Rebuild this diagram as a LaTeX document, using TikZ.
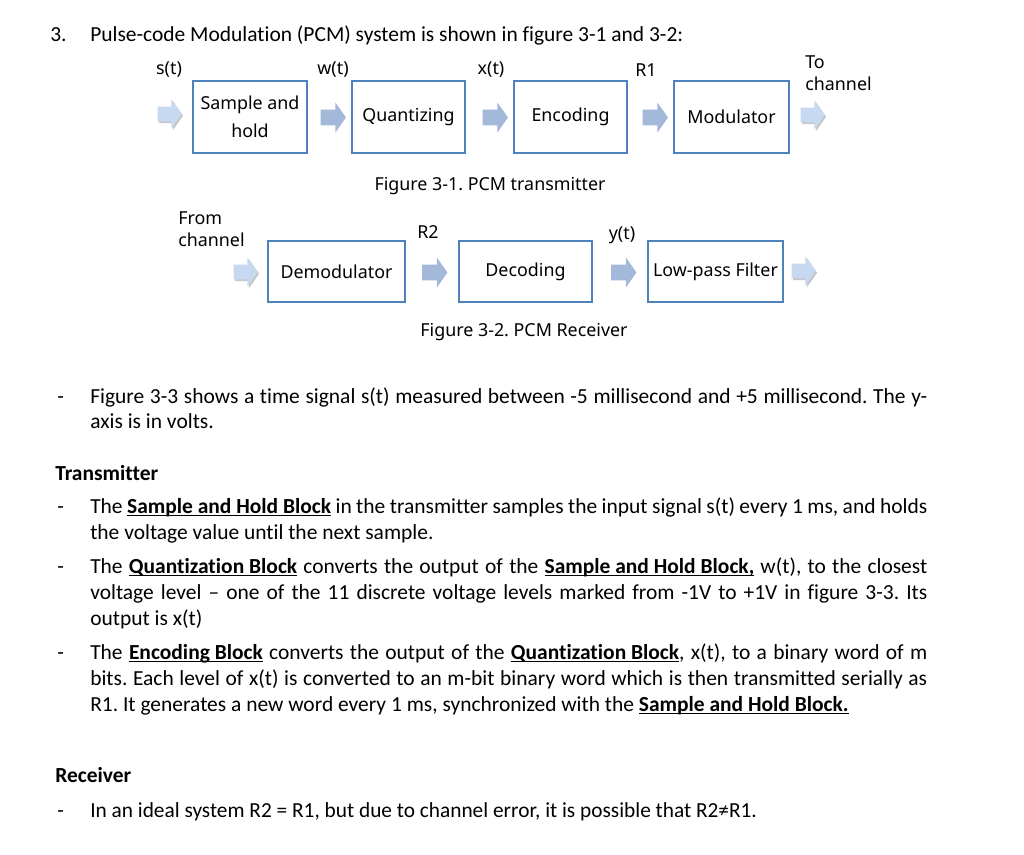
\documentclass[tikz,border=0pt]{standalone}
\usepackage{fontspec}
\usepackage{graphicx}
\setmainfont{Carlito}[Ligatures=NoCommon]
\newfontfamily\dg{Noto Sans}
\usetikzlibrary{shapes.arrows,shadows}
\definecolor{boxblue}{HTML}{4F81BD}
\definecolor{arrdark}{HTML}{A4B8DA}
\definecolor{arrlight}{HTML}{C6D9F1}
\frenchspacing
\newcommand\body{\fontsize{16.1pt}{19pt}\selectfont}
\newcommand\dgf{\dg\fontsize{13.4pt}{21pt}\selectfont}
\newcommand\ulb[1]{\setbox0\hbox{\bfseries #1}\rlap{\rule[-2.4pt]{\wd0}{0.9pt}}\box0\relax}
\newcommand\jline[1]{\makebox[627.75pt][s]{#1}}
\begin{document}
\begin{tikzpicture}[x=0.75pt,y=-0.75pt,
  blk/.style={draw=boxblue, line width=1pt, minimum height=54pt, align=center, font=\dgf, inner sep=0pt},
  darr/.style={single arrow, fill=arrdark, draw=none, minimum height=19pt, inner sep=5.7pt,
    single arrow head extend=5.4pt, single arrow tip angle=110},
  larr/.style={single arrow, fill=arrlight, draw=none, minimum height=18pt, inner sep=5.4pt,
    single arrow head extend=5.3pt, single arrow tip angle=110,
    drop shadow={shadow xshift=1.1pt, shadow yshift=-1.3pt, fill=black!22, opacity=1}},
  lab/.style={font=\dg\fontsize{13.4pt}{16.5pt}\selectfont, inner sep=0pt, align=left},
  txt/.style={anchor=base west, inner sep=0pt, font=\body}
]
\useasboundingbox[fill=white] (0,0) rectangle (1024,855);

% ---------- transmitter ----------
\node[blk, minimum width=85.5pt] (sh) at (250,117) {Sample and\\hold};
\node[blk, minimum width=84.75pt] (qz) at (408.5,117) {Quantizing};
\node[blk, minimum width=84.75pt] (en) at (570.5,117) {Encoding};
\node[blk, minimum width=86.25pt] (md) at (731.5,117) {Modulator};

\node[larr] (a1) at (167,114) {};
\node[darr] (a2) at (330.5,117.5) {};
\node[darr] (a3) at (492.5,117.5) {};
\node[darr] (a4) at (652.5,117.5) {};
\node[larr] (a5) at (810,115) {};

\node[lab] (ls) at (169,70) {s(t)};
\node[lab] (lw) at (333,70) {w(t)};
\node[lab] (lx) at (491,70) {x(t)};
\node[lab] (lr1) at (646,70) {R1};
\node[lab, anchor=north west] (ltc) at (805,55) {To\\channel};
\node[lab] (cap1) at (490,186) {Figure 3-1. PCM transmitter};

% ---------- receiver ----------
\node[blk, minimum width=102.75pt, minimum height=45.75pt] (dm) at (336.5,271.5) {Demodulator};
\node[blk, minimum width=99.75pt, minimum height=45.75pt] (dc) at (525.5,271.5) {Decoding};
\node[blk, minimum width=101.25pt, minimum height=45.75pt] (lp) at (715.5,271.5) {Low-pass Filter};

\node[larr] (b1) at (243,272) {};
\node[darr] (b2) at (432,272.5) {};
\node[darr] (b3) at (621,272.5) {};
\node[larr] (b4) at (801,271) {};

\node[lab, anchor=north west] (lfc) at (178,211) {From\\channel};
\node[lab] (lr2) at (428,232) {R2};
\node[lab] (ly) at (622,235) {y(t)};
\node[lab] (cap2) at (524,332) {Figure 3-2. PCM Receiver};

% ---------- text ----------
\node[txt] (n3) at (50,42) {3.};
\node[txt] (l0) at (90,42) {Pulse-code Modulation (PCM) system is shown in figure 3-1 and 3-2:};

\node[txt] (d1) at (57,403) {-};
\node[txt] (p1a) at (90,403) {\jline{Figure 3-3 shows a time signal s(t) measured between -5 millisecond and +5 millisecond. The y-}};
\node[txt] (p1b) at (90,428) {axis is in volts.};

\node[txt, font=\body\bfseries] (htr) at (55,480) {Transmitter};

\node[txt] (d2) at (57,513) {-};
\node[txt] (t1) at (90,513) {\jline{The \ulb{Sample and Hold Block} in the transmitter samples the input signal s(t) every 1 ms, and holds}};
\node[txt] (t2) at (90,539) {the voltage value until the next sample.};

\node[txt] (d3) at (57,573) {-};
\node[txt] (t3) at (90,573) {\jline{The \ulb{Quantization Block} converts the output of the \ulb{Sample and Hold Block,} w(t), to the closest}};
\node[txt] (t4) at (90,599) {\jline{voltage level – one of the 11 discrete voltage levels marked from -1V to +1V in figure 3-3. Its}};
\node[txt] (t5) at (90,625) {output is x(t)};

\node[txt] (d4) at (57,659) {-};
\node[txt] (t6) at (90,659) {\jline{The \ulb{Encoding Block} converts the output of the \ulb{Quantization Block}, x(t), to a binary word of m}};
\node[txt] (t7) at (90,685) {\jline{bits. Each level of x(t) is converted to an m-bit binary word which is then transmitted serially as}};
\node[txt] (t8) at (90,711) {R1. It generates a new word every 1 ms, synchronized with the \ulb{Sample and Hold Block.}};

\node[txt, font=\body\bfseries] (hrc) at (55,782) {Receiver};

\node[txt] (d5) at (57,817) {-};
\node[txt] (r1) at (90,817) {\resizebox{500pt}{\height}{In an ideal system R2 = R1, but due to channel error, it is possible that R2≠R1.}};
\end{tikzpicture}
\end{document}
